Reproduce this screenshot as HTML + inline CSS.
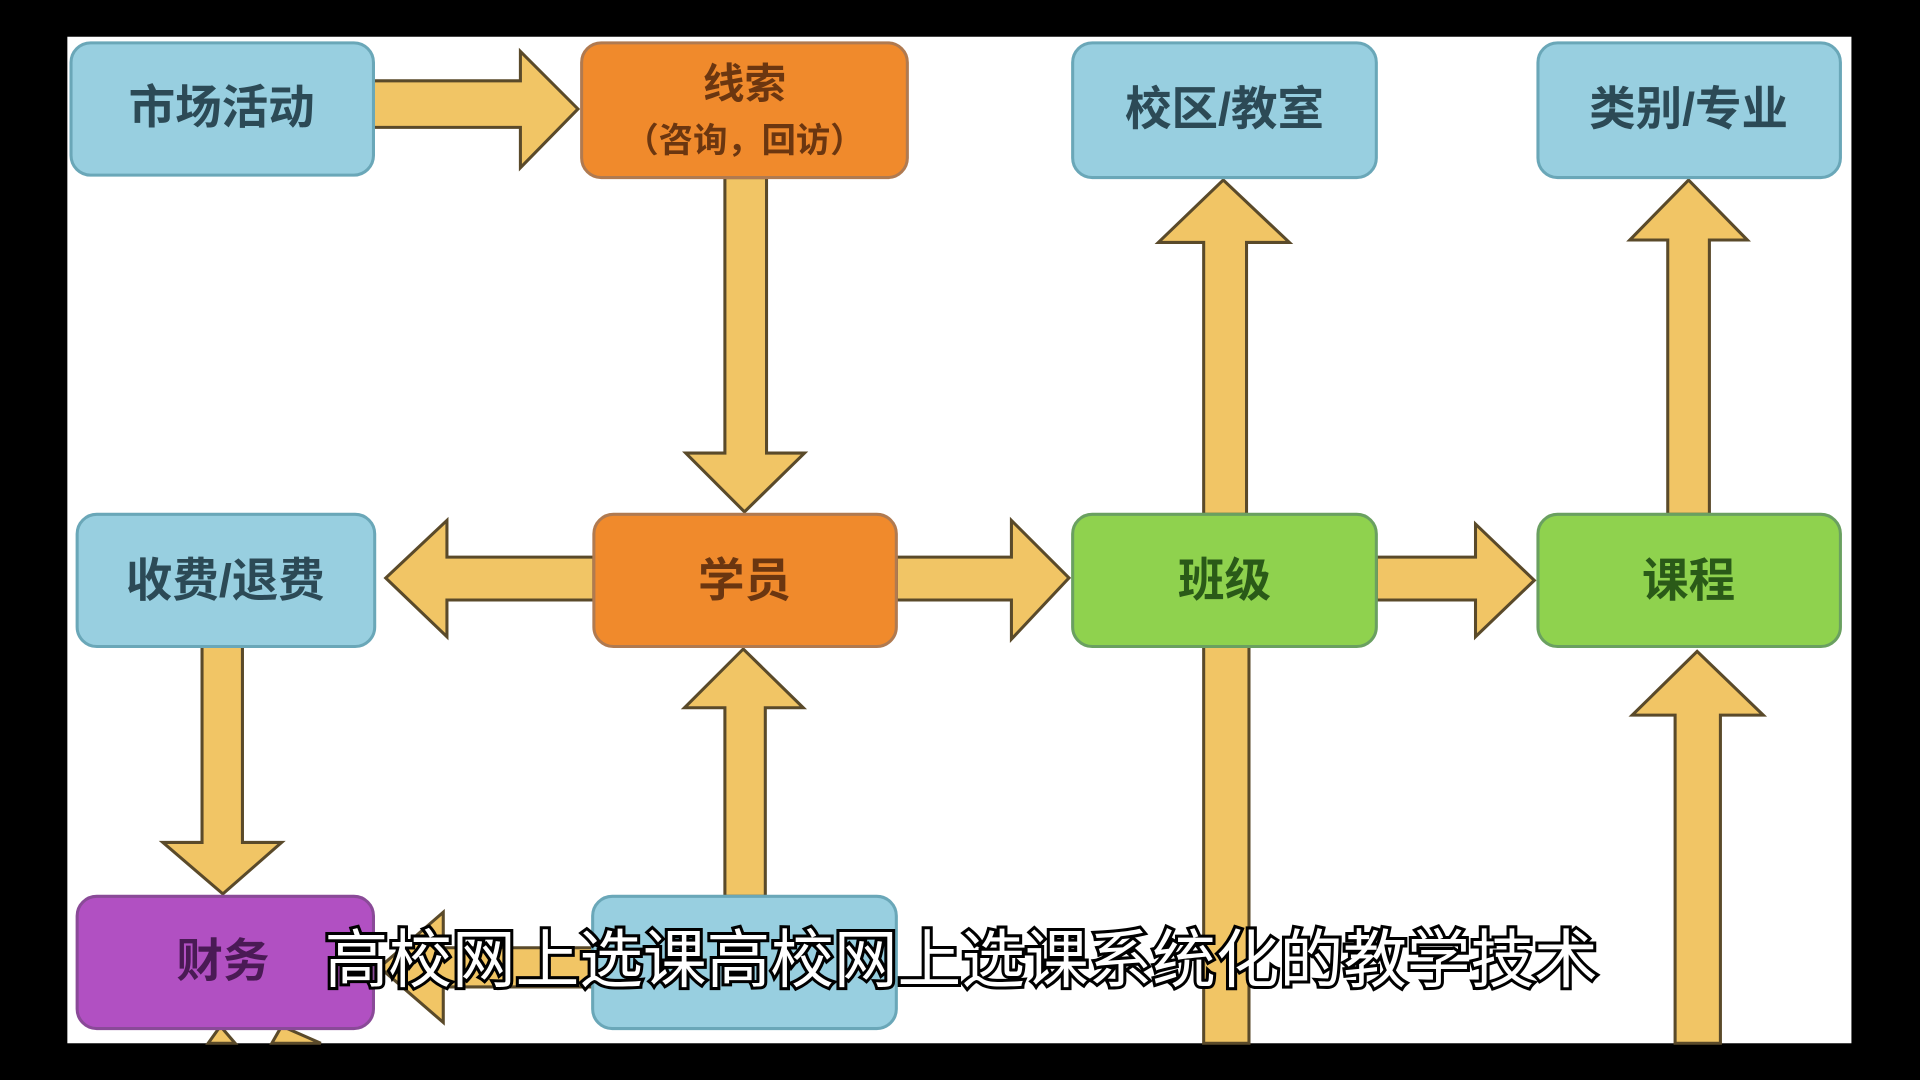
<!DOCTYPE html>
<html><head><meta charset="utf-8"><style>
html,body{margin:0;padding:0;background:#000;width:1920px;height:1080px;overflow:hidden}
svg{display:block}
text{font-family:"Liberation Sans","Noto Sans CJK SC",sans-serif;font-weight:bold}
</style></head><body>
<svg width="1920" height="1080" viewBox="0 0 1568 882" xmlns="http://www.w3.org/2000/svg">
<rect x="0" y="0" width="1568" height="882" fill="#000"/>
<rect x="55" y="30" width="1457" height="822" fill="#fff"/>
<g fill="#f1c565" stroke="#5a4a2a" stroke-width="2.5" stroke-linejoin="miter">
<polygon points="305,66 425,66 425,42 472,89 425,137 425,104 305,104"/>
<polygon points="592,145 626,145 626,370 657,370 608,418 560,370 592,370"/>
<polygon points="485,455 365,455 365,425 315,472 365,520 365,490 485,490"/>
<polygon points="732,455 826,455 826,425 873,472 826,522 826,490 732,490"/>
<polygon points="1124,455 1205,455 1205,428 1253,474 1205,520 1205,490 1124,490"/>
<polygon points="983,420 983,198 946,198 999,147 1053,198 1018,198 1018,420"/>
<polygon points="1362,420 1362,196 1331,196 1379,147 1427,196 1396,196 1396,420"/>
<polygon points="165,528 198,528 198,688 230,688 182,730 133,688 165,688"/>
<polygon points="592,732 592,578 559,578 607,530 656,578 625,578 625,732"/>
<polygon points="983,528 1020,528 1020,852 983,852"/>
<polygon points="1368,852 1368,584 1333,584 1386,532 1440,584 1405,584 1405,852"/>
<polygon points="484,774 362,774 362,745 310,790 362,835 362,806 484,806"/>
<polygon points="170,852 180,838 192,852"/>
<polygon points="222,852 230,838 262,852"/>
</g>
<g stroke-width="2.5">
<rect x="58" y="35" width="247" height="108" rx="16" fill="#98cfe0" stroke="#6aa7b8"/>
<rect x="475" y="35" width="266" height="110" rx="16" fill="#f08a2c" stroke="#b07a50"/>
<rect x="876" y="35" width="248" height="110" rx="16" fill="#98cfe0" stroke="#6aa7b8"/>
<rect x="1256" y="35" width="247" height="110" rx="16" fill="#98cfe0" stroke="#6aa7b8"/>
<rect x="63" y="420" width="243" height="108" rx="16" fill="#98cfe0" stroke="#6aa7b8"/>
<rect x="485" y="420" width="247" height="108" rx="16" fill="#f08a2c" stroke="#b07a50"/>
<rect x="876" y="420" width="248" height="108" rx="16" fill="#8fd24e" stroke="#6aa060"/>
<rect x="1256" y="420" width="247" height="108" rx="16" fill="#8fd24e" stroke="#6aa060"/>
<rect x="63" y="732" width="242" height="108" rx="16" fill="#b150c2" stroke="#8a4a98"/>
<rect x="484" y="732" width="248" height="108" rx="16" fill="#98cfe0" stroke="#6aa7b8"/>
</g>
<g font-size="38" text-anchor="middle">
<text x="181" y="101" fill="#2c4a56">市场活动</text>
<text x="608" y="80" fill="#6b3610" font-size="34">线索</text>
<text x="608" y="124" fill="#6b3610" font-size="28">（咨询，回访）</text>
<text x="1000" y="102" fill="#2c4a56">校区/教室</text>
<text x="1379" y="102" fill="#2c4a56">类别/专业</text>
<text x="184" y="487" fill="#2c4a56">收费/退费</text>
<text x="608" y="487" fill="#6b3610">学员</text>
<text x="1000" y="487" fill="#2a5a18">班级</text>
<text x="1379" y="487" fill="#2a5a18">课程</text>
<text x="182" y="798" fill="#4a1a55">财务</text>
</g>
<text x="785" y="802" font-size="52" text-anchor="middle" fill="#fff" stroke="#000" stroke-width="5" paint-order="stroke" style="font-weight:normal;font-family:'Noto Sans CJK SC',sans-serif">高校网上选课高校网上选课系统化的教学技术</text>
</svg>
</body></html>
